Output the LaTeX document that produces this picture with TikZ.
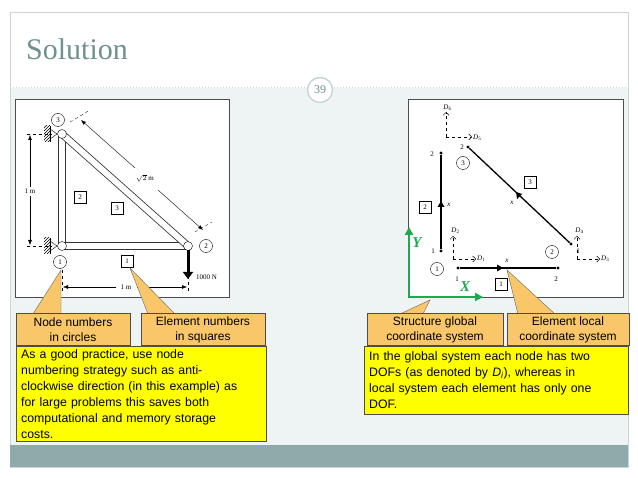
\documentclass[tikz,border=0pt]{standalone}
\usepackage{fontspec}
\setmainfont{Liberation Serif}
\setsansfont{Liberation Sans}
\usetikzlibrary{arrows.meta,patterns,calc}
\definecolor{frame}{HTML}{C9D6D8}
\definecolor{inner}{HTML}{EEF3F4}
\definecolor{teal}{HTML}{8EAAAA}
\definecolor{titlec}{HTML}{6F918F}
\definecolor{orangec}{HTML}{F9C76A}
\definecolor{yel}{HTML}{FFFF00}
\definecolor{greenc}{HTML}{1BAA4E}
\tikzset{
 callout/.style={draw=black!70,fill=orangec,font=\sffamily\fontsize{12}{15}\selectfont,align=center,inner sep=1pt,minimum height=32pt},
 yelbox/.style={draw=black!70,fill=yel,font=\sffamily\fontsize{12.3}{16}\selectfont,align=left,inner sep=3pt,inner xsep=5pt,anchor=north west},
 pointer/.style={fill=orangec,draw=black!60,line width=0.4pt},
 circ/.style={draw,circle,inner sep=0.8pt,minimum size=13pt,font=\fontsize{7}{7}\selectfont},
 sq/.style={draw,inner sep=0pt,minimum size=12pt,font=\fontsize{7}{7}\selectfont},
 sm/.style={font=\fontsize{7}{7}\selectfont,inner sep=1pt},
 member/.style={double=white,double distance=6pt,line width=0.8pt,draw=black!80},
 hinge/.style={draw,circle,fill=white,minimum size=9pt,inner sep=0pt},
 dof/.style={dashed,-{Straight Barb[length=3pt]},line width=0.5pt},
 elem/.style={line width=1.3pt},
 dot/.style={circle,fill,inner sep=1.2pt}
}
\begin{document}
\begin{tikzpicture}[x=1pt,y=-1pt]
\useasboundingbox (0,0) rectangle (638,478);
\fill[white] (0,0) rectangle (638,478);
% slide frame
\fill[inner] (10,88) rectangle (628,445);
\draw[frame] (10,12) rectangle (628,467);
\fill[teal] (10,445) rectangle (628,467);
\draw[frame,dotted,line width=1pt] (10,88) -- (628,88);
\node[draw=frame,fill=white,circle,double=frame,minimum size=25pt,font=\fontsize{12}{12}\selectfont,text=titlec] (pg) at (320,90) {39};
\node[anchor=west,text=titlec,font=\fontsize{30}{30}\selectfont,inner sep=0] (title) at (26,49) {Solution};
% left picture box
\draw[fill=white,draw=black!70] (15,99) rectangle (229,297);
% truss
\coordinate (n3) at (62,134);
\coordinate (n1) at (62,246);
\coordinate (n2) at (188,246);
\draw[member] (n1) -- (n3);
\draw[member] (n1) -- (n2);
\draw[member] (n3) -- (n2);
% supports
\foreach \p in {n3,n1}{
 \draw ($(\p)+(-5,0)$) -- ++(-7,-5) -- ++(0,10) -- cycle;
 \fill[pattern=north east lines] ($(\p)+(-18,-8)$) rectangle ($(\p)+(-12,8)$);
 \draw ($(\p)+(-12,-8)$) -- ($(\p)+(-12,8)$);
}
\node[hinge] at (n3) {};
\node[hinge] at (n1) {};
\node[hinge] at (n2) {};
\node[circ] (c3) at (58,120) {3};
\node[circ] (c1) at (60,262) {1};
\node[circ] (c2) at (206,246) {2};
\node[sq] (s2) at (80,197) {2};
\node[sq] (s3) at (117,208) {3};
\node[sq] (s1) at (127,261) {1};
% dimensions
\draw[dashed,line width=0.3pt] (27,134) -- (52,134);
\draw[dashed,line width=0.3pt] (27,246) -- (52,246);
\draw[-{Latex[length=5pt]},line width=0.4pt] (30,187) -- (30,135);
\draw[-{Latex[length=5pt]},line width=0.4pt] (30,196) -- (30,245);
\node[sm] (d1) at (30,191) {1 m};
\draw[-{Latex[length=5pt]},line width=0.4pt] (116,287) -- (63,287);
\draw[-{Latex[length=5pt]},line width=0.4pt] (137,287) -- (187,287);
\node[sm] (d2) at (126,287) {1 m};
\draw[dashed,line width=0.3pt] (62,270) -- (62,292);
\draw[dashed,line width=0.3pt] (188,258) -- (188,292);
\draw[dashed,line width=0.3pt] (70,122) -- (90,110);
\draw[dashed,line width=0.3pt] (195,232) -- (212,222);
\draw[-{Latex[length=5pt]},line width=0.4pt] (135,168) -- (81,120);
\draw[-{Latex[length=5pt]},line width=0.4pt] (158,190) -- (203,230);
\node[sm] (d3) at (145,178) {$\sqrt{2}$ m};
\draw[line width=3pt,-{Triangle[length=7pt,width=10pt]}] (188,250) -- (188,279);
\node[sm,anchor=west] (load) at (195,277) {1000 N};
% right picture box
\draw[fill=white,draw=black!70] (408,99) rectangle (623,297);
\node[dot] (e1a) at (458,268) {};
\node[dot] (e1b) at (558,268) {};
\draw[elem] (e1a) -- (e1b);
\fill (503,268) -- ++(-6,-3.5) -- ++(0,7) -- cycle;
\node[sm] at (507,261) {\itshape x};
\node[sm] at (457,279) {1};
\node[sm] at (556,279) {2};
\node[circ] at (437,269) {1};
\node[sq] (r1) at (501,284) {1};
\node[dot] (e2a) at (441,251) {};
\node[dot] (e2b) at (441,153) {};
\draw[elem] (e2a) -- (e2b);
\fill (441,201) -- ++(-3.5,6) -- ++(7,0) -- cycle;
\node[sm] at (449,205) {\itshape x};
\node[sm] at (432,154) {2};
\node[sm] at (433,251) {1};
\node[sq] at (425,207) {2};
\node[circ] at (463,163) {3};
\node[dot] (e3a) at (571,244) {};
\node[dot] (e3b) at (468,147) {};
\draw[elem] (e3a) -- (e3b);
\fill (516,192) -- ++(1,7) -- ++(5,-5) -- cycle;
\node[sm] at (512,203) {\itshape x};
\node[sm] at (462,147) {2};
\node[sm] at (578,251) {1};
\node[sq] at (530,182) {3};
\node[circ] at (552,252) {2};
% dofs
\coordinate (g3) at (446,137);
\draw[dof] (g3) -- ++(0,-25); \node[sm] at (446,108) {\itshape D\rlap{\textsubscript{\upshape\tiny 6}}};
\draw[dof] (g3) -- ++(26,0); \node[sm,anchor=west] at (472,138) {\itshape D\textsubscript{\upshape\tiny 5}};
\coordinate (g1) at (453,259);
\draw[dof] (g1) -- ++(0,-23); \node[sm] at (454,231) {\itshape D\rlap{\textsubscript{\upshape\tiny 2}}};
\draw[dof] (g1) -- ++(23,0); \node[sm,anchor=west] at (476,259) {\itshape D\textsubscript{\upshape\tiny 1}};
\coordinate (g2) at (577,259);
\draw[dof] (g2) -- ++(0,-23); \node[sm] at (578,231) {\itshape D\rlap{\textsubscript{\upshape\tiny 4}}};
\draw[dof] (g2) -- ++(23,0); \node[sm,anchor=west] at (600,259) {\itshape D\textsubscript{\upshape\tiny 3}};
% global axes
\coordinate (o) at (409,297);
\draw[greenc,line width=2pt,-{Triangle[length=8pt,width=8pt]}] (o) -- (409,227);
\draw[greenc,line width=2pt,-{Triangle[length=8pt,width=8pt]}] (o) -- (483,297);
\node[greenc,font=\bfseries\itshape\fontsize{15}{15}\selectfont] at (417,243) {Y};
\node[greenc,font=\bfseries\itshape\fontsize{15}{15}\selectfont] at (465,287) {X};
% pointers
\fill[pointer] (33,314) -- (61,270) -- (61,314) -- cycle;
\fill[pointer] (148,314) -- (130,268) -- (175,314) -- cycle;
\fill[pointer] (400,314) -- (430,300) -- (423,314) -- cycle;
\fill[pointer] (518,314) -- (507,270) -- (555,314) -- cycle;
% callouts
\node[callout,minimum width=114pt] (cb1) at (73,329.5) {Node numbers\\in circles};
\node[callout,minimum width=124pt] (cb2) at (203,329.5) {Element numbers\\in squares};
\node[callout,minimum width=136pt] (cb3) at (435,329.5) {Structure global\\coordinate system};
\node[callout,minimum width=122pt] (cb4) at (568,329.5) {Element local\\coordinate system};
\node[yelbox,text width=240pt,minimum height=94pt] (y1) at (16,346) {As a good practice, use node\\numbering strategy such as anti-\\clockwise direction (in this example) as\\for large problems this saves both\\computational and memory storage\\costs.};
\node[yelbox,text width=254pt,minimum height=68pt] (y2) at (364,346) {In the global system each node has two\\DOFs (as denoted by \textit{D\textsubscript{i}}), whereas in\\local system each element has only one\\DOF.};
\end{tikzpicture}
\end{document}
